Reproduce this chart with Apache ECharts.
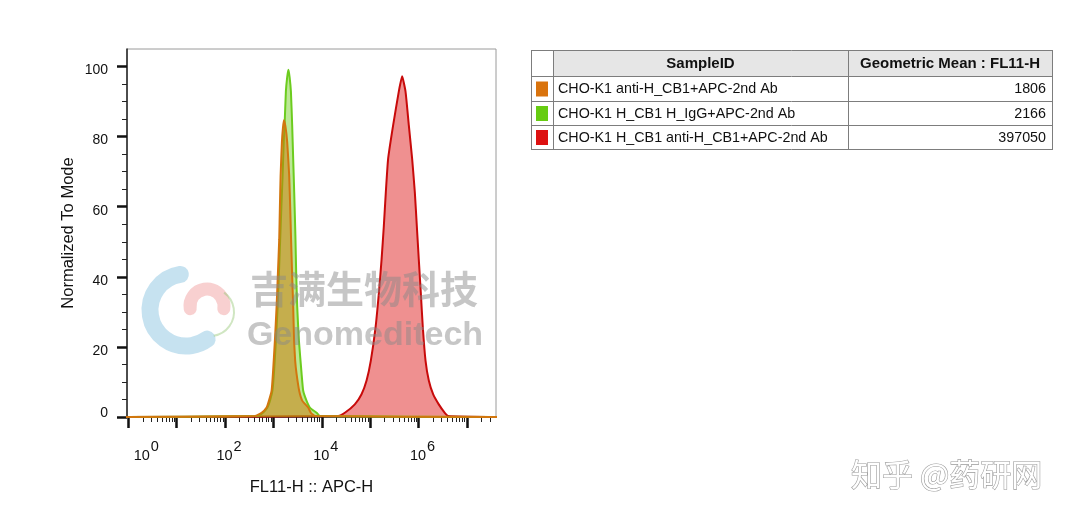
<!DOCTYPE html>
<html><head><meta charset="utf-8">
<script src="https://cdn.jsdelivr.net/npm/echarts@6/dist/echarts.min.js"></script>
<style>html,body{margin:0;padding:0;background:#fff}#c{width:1080px;height:520px}</style>
</head><body><div id="c"></div>
<script>
// ---- table data ----
const tableHeaders = ['SampleID', 'Geometric Mean : FL11-H'];
const sampleIds = ['CHO-K1 anti-H_CB1+APC-2nd Ab', 'CHO-K1 H_CB1 H_IgG+APC-2nd Ab', 'CHO-K1 H_CB1 anti-H_CB1+APC-2nd Ab'];
const geoMeans = [1806, 2166, 397050];
const swatchColors = ['#d9730d', '#66cc11', '#dd1111'];
const lineColors = ['#d2760e', '#6ccc1e', '#c80a0a'];
const fillColors = ['rgba(205,115,5,0.5)', 'rgba(106,204,20,0.45)', 'rgba(222,20,20,0.47)'];

// ---- histogram data (FL11-H intensity, normalized to mode) ----
const antiX = [415, 570, 724, 807, 918, 977, 1074, 1164, 1239, 1318, 1362, 1409, 1500, 1574, 1649, 1770, 1928, 2120, 2223, 2321, 2434, 2566, 2677, 2820, 3013, 3412, 3972, 5236, 5953, 7194];
const antiY = [0.3, 1.2, 2.7, 4.6, 7.5, 12.3, 21.9, 31.5, 41, 50.6, 60, 68.9, 78.5, 82.5, 84.7, 83, 78.5, 68.9, 60, 50.6, 41, 31.5, 21.9, 16, 12.3, 7.5, 4.6, 2.7, 1.2, 0.3];
const iggX = [479, 607, 752, 847, 953, 1023, 1127, 1222, 1300, 1380, 1462, 1549, 1633, 1703, 1811, 1928, 2042, 2163, 2301, 2443, 2564, 2692, 2851, 2958, 3105, 3365, 3828, 4130, 4853, 5675, 7816, 9141];
const iggY = [0.3, 1.2, 2.7, 4.6, 7.5, 12.3, 21.9, 31.5, 41, 50.6, 60, 68.9, 78.5, 83.3, 92.9, 97, 99.1, 97, 92.9, 83.3, 73.7, 64.1, 51.6, 41.1, 31.5, 21.9, 12.3, 7.5, 4.6, 2.7, 1.2, 0.3];
const cb1X = [21830, 29990, 48200, 66370, 84330, 103300, 129400, 151400, 172200, 191900, 210900, 235500, 298500, 391700, 458100, 538300, 631000, 738000, 839500, 922500, 1014000, 1117000, 1227000, 1396000, 1633000, 2004000, 2624000, 3491000, 4093000];
const cb1Y = [0.3, 1.2, 3.6, 6.5, 10.4, 16.1, 25.6, 35.3, 44.9, 54.5, 64.1, 73.7, 83.2, 92.9, 97.2, 92.9, 83.2, 73.7, 64.1, 54.5, 44.9, 35.3, 25.6, 16.1, 10.4, 6.5, 3.6, 1.2, 0.3];
const baselineX = [0.5, 50000000];

// ---- ticks ----
const yTicks = [0, 20, 40, 60, 80, 100];
const yMinorTicks = [5, 10, 15, 25, 30, 35, 45, 50, 55, 65, 70, 75, 85, 90, 95];
const xLabelTicks = [1, 100, 10000, 1000000];
const xDecades = [1, 10, 100, 1000, 10000, 100000, 1000000, 10000000];
const xMinorMult = [2, 3, 4, 5, 6, 7, 8, 9];

const FONT = '"Liberation Sans", Arial, Helvetica, sans-serif';
const xMin = 0.94, xMax = 40000000;

const xMinorTicks = [];
xDecades.forEach(d => xMinorMult.forEach(m => { if (m * d < xMax) xMinorTicks.push(m * d); }));

function pts(xs, ys) {
  const d = [[baselineX[0], 0]];
  xs.forEach((x, i) => d.push([x, ys[i]]));
  d.push([baselineX[1], 0]);
  return d;
}

const seriesData = [pts(antiX, antiY), pts(iggX, iggY), pts(cb1X, cb1Y)];
const drawOrder = [2, 1, 0];
const series = drawOrder.map((k, j) => ({
  type: 'line', name: sampleIds[k], data: seriesData[k],
  xAxisIndex: 0, yAxisIndex: 0,
  symbol: 'none', showSymbol: false, smooth: 0.15, silent: true,
  z: 2 + j,
  lineStyle: { color: lineColors[k], width: 2 },
  itemStyle: { color: lineColors[k] },
  areaStyle: { color: fillColors[k], origin: 'start', opacity: 1 }
}));

// ---- table graphics ----
const tX = [531, 553, 848, 1052];
const tY = [50, 76, 101, 125, 149];
const graphics = [];
graphics.push({ type: 'rect', shape: { x: tX[1], y: tY[0], width: tX[3] - tX[1], height: tY[1] - tY[0] }, style: { fill: '#e6e6e6' }, z: 10 });
tY.forEach(y => graphics.push({ type: 'line', shape: { x1: tX[0], y1: y + 0.5, x2: tX[3], y2: y + 0.5 }, style: { stroke: '#7d7d7d', lineWidth: 1 }, z: 11 }));
tX.forEach(x => graphics.push({ type: 'line', shape: { x1: x + 0.5, y1: tY[0], x2: x + 0.5, y2: tY[4] + 1 }, style: { stroke: '#7d7d7d', lineWidth: 1 }, z: 11 }));
graphics.push({ type: 'text', style: { text: tableHeaders[0], x: (tX[1] + tX[2]) / 2, y: (tY[0] + tY[1]) / 2 + 1, align: 'center', verticalAlign: 'middle', font: 'bold 15px ' + FONT, fill: '#111' }, z: 12 });
graphics.push({ type: 'text', style: { text: tableHeaders[1], x: (tX[2] + tX[3]) / 2, y: (tY[0] + tY[1]) / 2 + 1, align: 'center', verticalAlign: 'middle', font: 'bold 15px ' + FONT, fill: '#111' }, z: 12 });
sampleIds.forEach((s, i) => {
  const cy = (tY[i + 1] + tY[i + 2]) / 2 + 0.5;
  graphics.push({ type: 'rect', shape: { x: 536, y: cy - 7.5, width: 12, height: 15 }, style: { fill: swatchColors[i] }, z: 12 });
  graphics.push({ type: 'text', style: { text: s, x: 558, y: cy + 0.5, align: 'left', verticalAlign: 'middle', font: '14.3px ' + FONT, fill: '#111' }, z: 12 });
  graphics.push({ type: 'text', style: { text: String(geoMeans[i]), x: 1046, y: cy + 0.5, align: 'right', verticalAlign: 'middle', font: '14.3px ' + FONT, fill: '#111' }, z: 12 });
});

// ---- watermarks ----
const wm = [];
wm.push({ type: 'arc', shape: { cx: 186, cy: 310, r: 36, startAngle: Math.PI * 1.45, endAngle: Math.PI * 0.3, clockwise: false }, style: { stroke: 'rgba(120,185,220,0.42)', lineWidth: 17, fill: null, lineCap: 'round' }, z: 50 });
wm.push({ type: 'arc', shape: { cx: 207, cy: 306, r: 17, startAngle: Math.PI * 0.95, endAngle: Math.PI * 2.05, clockwise: true }, style: { stroke: 'rgba(235,120,120,0.35)', lineWidth: 13, fill: null, lineCap: 'round' }, z: 50 });
wm.push({ type: 'arc', shape: { cx: 210, cy: 312, r: 24, startAngle: Math.PI * 1.7, endAngle: Math.PI * 0.45, clockwise: true }, style: { stroke: 'rgba(150,200,120,0.45)', lineWidth: 2, fill: null }, z: 50 });
wm.push({ type: 'text', style: { text: '吉满生物科技', x: 364, y: 289, align: 'center', verticalAlign: 'middle', font: 'bold 38px "Noto Sans CJK SC"', fill: 'rgba(135,135,135,0.48)' }, z: 50 });
wm.push({ type: 'text', style: { text: 'Genomeditech', x: 365, y: 336, align: 'center', verticalAlign: 'middle', font: 'bold 34px ' + FONT, fill: 'rgba(135,135,135,0.48)' }, z: 50 });
wm.push({ type: 'text', style: { text: '知乎 @药研网', x: 851, y: 474, align: 'left', verticalAlign: 'middle', font: '31px "Noto Sans CJK SC"', fill: '#ffffff', stroke: 'rgba(150,150,150,0.95)', lineWidth: 1.2, shadowColor: 'rgba(0,0,0,0.3)', shadowBlur: 2, shadowOffsetX: 1.5, shadowOffsetY: 1.5 }, z: 50 });

const chart = echarts.init(document.getElementById('c'), null, { renderer: 'canvas' });
chart.setOption({
  animation: false,
  backgroundColor: '#ffffff',
  textStyle: { fontFamily: FONT },
  grid: { left: 127, right: 584, top: 49, bottom: 103, show: true, borderColor: '#9a9a9a', borderWidth: 1, backgroundColor: 'transparent' },
  xAxis: [
    {
      type: 'log', logBase: 10, min: xMin, max: xMax, position: 'bottom',
      axisLine: { show: true, lineStyle: { color: '#222', width: 1.5 } },
      axisTick: { show: true, customValues: xDecades, length: 11, lineStyle: { color: '#111', width: 2.5 } },
      minorTick: { show: false }, splitLine: { show: false },
      axisLabel: {
        customValues: xLabelTicks, margin: 26, color: '#111',
        formatter: v => { const e = Math.round(Math.log10(v)); return (e === 0 ? '{f|10}' : '{b|10}') + '{s|' + e + '}'; },
        rich: {
          b: { fontSize: 14.5, lineHeight: 16, padding: [9, 0, 0, 8], fontFamily: FONT, color: '#111' },
          f: { fontSize: 14.5, lineHeight: 16, padding: [9, 0, 0, 36], fontFamily: FONT, color: '#111' },
          s: { fontSize: 14.5, lineHeight: 16, padding: [0, 0, 9, 1], fontFamily: FONT, color: '#111' }
        }
      },
      name: 'FL11-H :: APC-H', nameLocation: 'middle', nameGap: 62,
      nameTextStyle: { fontSize: 16.5, color: '#111', fontFamily: FONT }
    },
    {
      type: 'log', logBase: 10, min: xMin, max: xMax, position: 'bottom',
      axisLine: { show: false },
      axisTick: { show: true, customValues: xMinorTicks, length: 5, lineStyle: { color: '#222', width: 1 } },
      axisLabel: { show: false }, splitLine: { show: false }, minorTick: { show: false }
    }
  ],
  yAxis: [
    {
      type: 'value', min: 0, max: 105, interval: 20, position: 'left',
      axisLine: { show: true, lineStyle: { color: '#222', width: 1.5 } },
      axisTick: { show: true, customValues: yTicks, length: 10, lineStyle: { color: '#111', width: 2.5 } },
      splitLine: { show: false },
      axisLabel: {
        customValues: yTicks, margin: 19, color: '#111',
        formatter: v => v === 0 ? '{z|0}' : '{n|' + v + '}',
        rich: {
          n: { fontSize: 14, padding: [8, 0, 0, 0], fontFamily: FONT, color: '#111' },
          z: { fontSize: 14, padding: [0, 0, 8, 0], fontFamily: FONT, color: '#111' }
        }
      },
      name: 'Normalized To Mode', nameLocation: 'middle', nameGap: 50,
      nameTextStyle: { fontSize: 16.5, color: '#111', fontFamily: FONT }
    },
    {
      type: 'value', min: 0, max: 105, position: 'left',
      axisLine: { show: false },
      axisTick: { show: true, customValues: yMinorTicks, length: 5, lineStyle: { color: '#222', width: 1 } },
      axisLabel: { show: false }, splitLine: { show: false }
    }
  ],
  series: series,
  graphic: { elements: graphics.concat(wm) }
});
</script>
</body></html>
